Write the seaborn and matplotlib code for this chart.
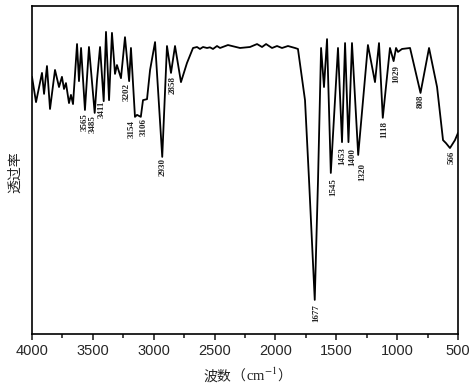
import numpy as np
import pandas as pd
import matplotlib
matplotlib.use("Agg")
import matplotlib.pyplot as plt
import seaborn as sns

# ---- data ----
wavenumber = [4000, 3967, 3918, 3901, 3877, 3852, 3811, 3778, 3754, 3737, 3721, 3696, 3680, 3663,
              3630, 3614, 3597, 3565, 3532, 3485, 3466, 3441, 3411, 3392, 3367, 3343, 3318, 3302,
              3269, 3236, 3202, 3187, 3154, 3137, 3106, 3088, 3055, 3030, 2989, 2930, 2891, 2858,
              2825, 2776, 2727, 2677, 2644, 2620, 2595, 2562, 2538, 2513, 2480, 2455, 2390, 2291,
              2209, 2151, 2110, 2077, 2028, 1987, 1946, 1897, 1839, 1815, 1757, 1724, 1677, 1650,
              1625, 1601, 1576, 1545, 1486, 1453, 1428, 1400, 1371, 1320, 1240, 1182, 1149, 1118,
              1059, 1029, 1009, 993, 960, 894, 808, 738, 672, 623, 599, 566, 525, 500]
transmittance = [78.4, 70.7, 79.6, 73.2, 81.7, 68.6, 80.5, 75.3, 78.4, 74.7, 76.5, 70.4, 72.9, 70.1,
                 88.4, 77.1, 87.2, 68.3, 87.5, 67.4, 77.4, 87.5, 71.0, 92.1, 71.3, 91.8, 79.3, 82.0,
                 78.0, 90.5, 77.1, 87.2, 66.2, 66.8, 66.2, 71.3, 71.6, 80.5, 89.0, 54.0, 87.8, 79.6,
                 87.8, 76.8, 82.6, 87.2, 87.5, 86.9, 87.5, 87.2, 87.4, 86.9, 87.8, 87.2, 88.1, 87.2,
                 87.5, 88.4, 87.5, 88.4, 87.2, 87.8, 87.2, 87.8, 87.2, 86.9, 71.3, 47.0, 10.4, 47.0,
                 87.2, 75.3, 89.9, 49.1, 87.2, 58.5, 88.7, 58.5, 88.7, 54.6, 88.1, 76.8, 88.7, 65.9,
                 87.2, 83.2, 87.2, 86.0, 86.9, 87.2, 73.5, 87.2, 75.3, 59.1, 58.2, 56.7, 59.1, 61.3]

peak_labels = ["3565", "3485", "3411", "3202", "3154", "3106", "2930", "2858", "1677",
               "1545", "1453", "1400", "1320", "1118", "1029", "808", "566"]
peak_label_x = [3565, 3499, 3425, 3220, 3178, 3080, 2924, 2842, 1667,
                1527, 1453, 1371, 1289, 1108, 1009, 804, 549]
peak_label_y = [67.4, 66.8, 71.3, 76.5, 65.2, 65.9, 53.7, 78.7, 9.1,
                47.6, 57.0, 56.7, 52.1, 64.9, 82.0, 72.9, 55.8]

x_ticks = [4000, 3500, 3000, 2500, 2000, 1500, 1000, 500]

# ---- plot ----
sns.set_style("ticks")
plt.rcParams['font.family'] = ['Liberation Sans', 'DejaVu Sans']
plt.rcParams['mathtext.fontset'] = 'stix'

df = pd.DataFrame({"wn": wavenumber, "T": transmittance})

fig = plt.figure(figsize=(4.74, 3.91), dpi=100)
ax = fig.add_axes([32/474, 1 - 334/391, 426/474, 328/391])

sns.lineplot(data=df, x="wn", y="T", sort=False, color="black", linewidth=1.3, ax=ax)

ax.set_xlim(4000, 500)
ax.set_ylim(0, 100)
ax.set_xticks(x_ticks)
ax.set_xticklabels([str(t) for t in x_ticks], fontsize=10.5)
ax.set_xticks([3750, 3250, 2750, 2250, 1750, 1250, 750], minor=True)
ax.tick_params(axis='x', which='major', direction='out', length=4, width=1.2, pad=3)
ax.tick_params(axis='x', which='minor', direction='out', length=3, width=1.2)
ax.set_yticks([])
for s in ax.spines.values():
    s.set_linewidth(1.2)
    s.set_color("black")

for lab, lx, ly in zip(peak_labels, peak_label_x, peak_label_y):
    ax.text(lx, ly, lab, rotation=90, ha='center', va='top',
            fontsize=6.5, fontweight='bold', family=['Liberation Serif', 'DejaVu Serif'])

ax.set_xlabel("")
ax.set_ylabel("")
cjk = ['Noto Sans CJK SC', 'DejaVu Sans']
serif = ['Liberation Serif', 'DejaVu Serif']
fig.text(15/474, 1 - 172/391, "透过率", rotation=90, ha='center', va='center',
         fontsize=10, family=cjk, color='#222222')

# x label: 波数（cm-1） built from pieces
y_lab = 1 - 381/391
t1 = fig.text(203/474, y_lab, "波数", ha='left', va='baseline', fontsize=10, family=cjk, color='#222222')
fig.canvas.draw()
r = fig.canvas.get_renderer()
bb = t1.get_window_extent(r)
x_px = bb.x1 + 1
t2 = fig.text(x_px / 474, y_lab, "（", ha='left', va='baseline', fontsize=10, family=cjk, color='#222222')
bb = t2.get_window_extent(r)
x_px = bb.x1 + 0.5
t3 = fig.text(x_px / 474, y_lab, "cm$^{\\mathrm{-1}}$", ha='left', va='baseline', fontsize=10.5,
              family=serif, color='#222222')
bb = t3.get_window_extent(r)
x_px = bb.x1 + 0.5
fig.text(x_px / 474, y_lab, "）", ha='left', va='baseline', fontsize=10, family=cjk, color='#222222')

fig.savefig("out.png", dpi=100)
